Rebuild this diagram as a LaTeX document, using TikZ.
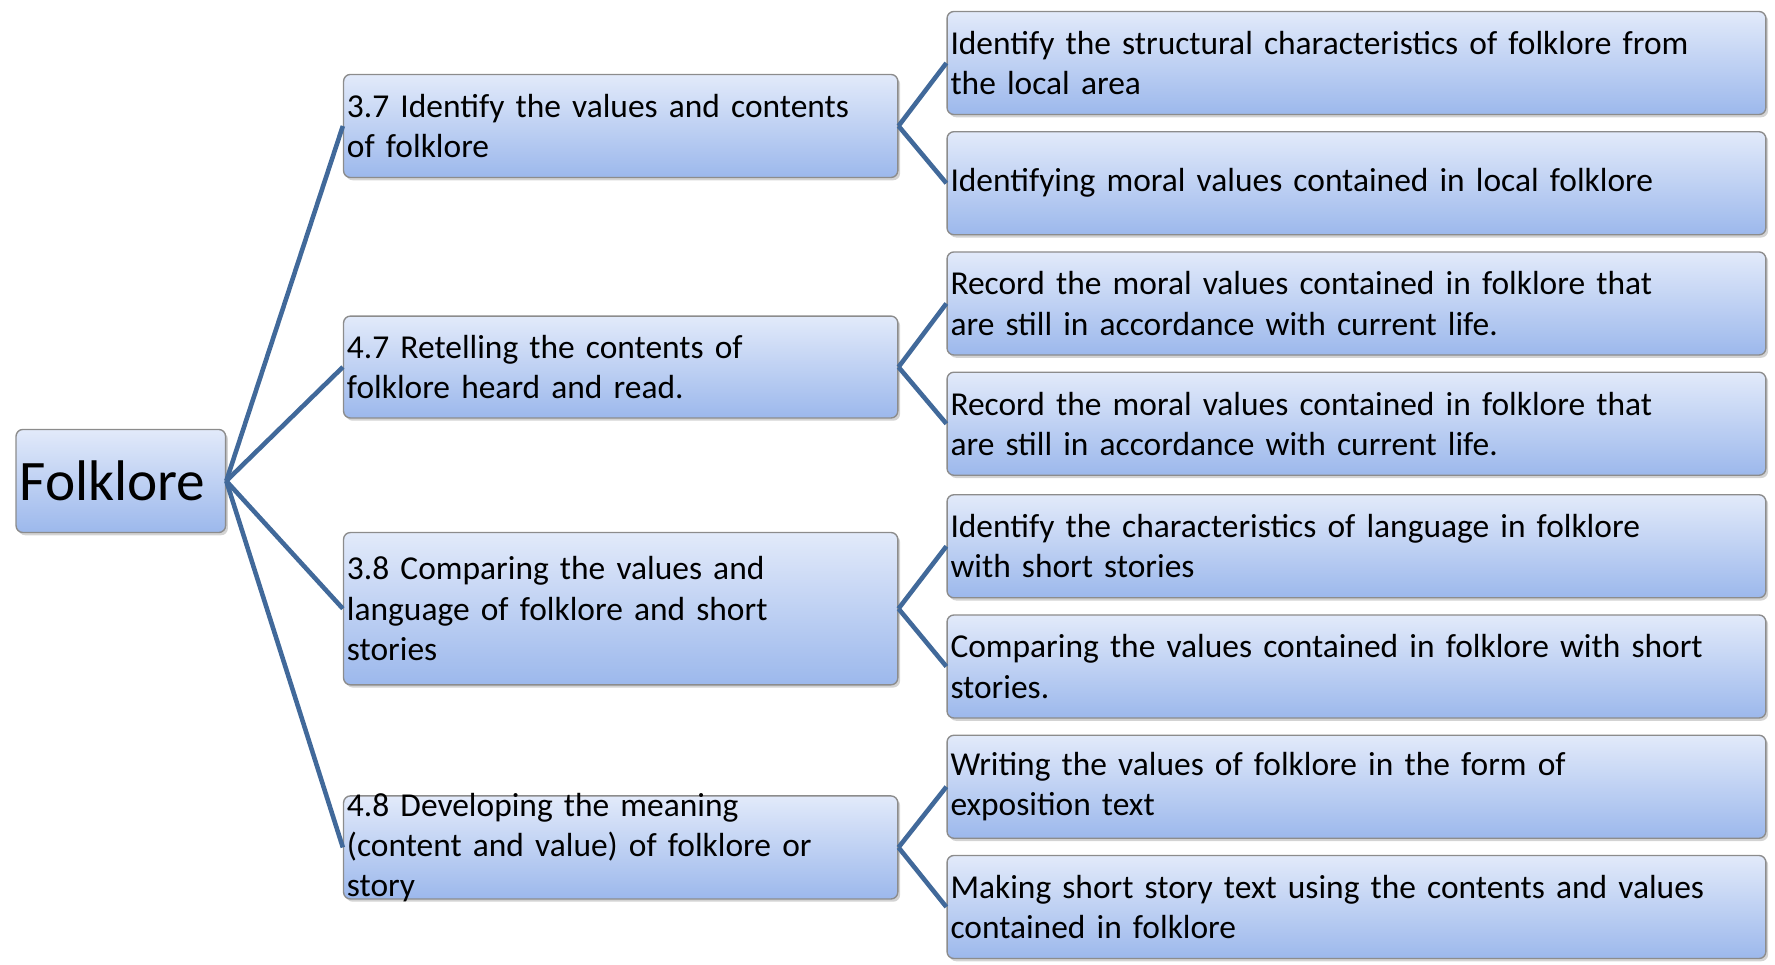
\documentclass[tikz,border=0pt]{standalone}
\usepackage{fontspec}
\setmainfont{Carlito}
\usetikzlibrary{shadows}
\definecolor{boxtop}{HTML}{E2EAFA}
\definecolor{boxbot}{HTML}{9CB8EC}
\definecolor{linkc}{HTML}{41699A}
\begin{document}
\begin{tikzpicture}[x=0.5pt,y=-0.5pt,
  boxs/.style={draw=black!45,line width=0.6pt,rounded corners=3pt,top color=boxtop,bottom color=boxbot,
    drop shadow={shadow xshift=1pt,shadow yshift=-1.2pt,opacity=0.35},inner sep=0pt},
  txt/.style={align=left,inner sep=0pt,font=\fontsize{14.6}{17.6}\selectfont},
  link/.style={draw=linkc,line width=2pt}]
\useasboundingbox (0,0) rectangle (1550,842);
\newcommand\bx[7]{% name, x1,y1,x2,y2, text, font
  \node[boxs,minimum width={(#4-#2)*0.5pt},minimum height={(#5-#3)*0.5pt}] (#1) at ({(#2+#4)/2},{(#3+#5)/2}) {};
  \node[txt,text width={(#4-#2-6)*0.5pt},#7] (#1t) at (#1.center) {#6};}
\bx{root}{14}{375}{197}{465}{Folklore}{font=\fontsize{25}{28}\selectfont}
\bx{a}{300}{65}{784}{155}{3.7 Identify the values and contents\\of folklore}{}
\bx{b}{300}{276}{784}{365}{4.7 Retelling the contents of\\folklore heard and read.}{}
\bx{c}{300}{465}{784}{598}{3.8 Comparing the values and\\language of folklore and short\\stories}{}
\bx{d}{300}{695}{784}{785}{4.8 Developing the meaning\\(content and value) of folklore or\\story}{}
\bx{a1}{827}{10}{1542}{100}{Identify the structural characteristics of folklore from\\the local area}{}
\bx{a2}{827}{115}{1542}{205}{Identifying moral values contained in local folklore}{}
\bx{b1}{827}{220}{1542}{310}{Record the moral values contained in folklore that\\are still in accordance with current life.}{}
\bx{b2}{827}{325}{1542}{415}{Record the moral values contained in folklore that\\are still in accordance with current life.}{}
\bx{c1}{827}{432}{1542}{522}{Identify the characteristics of language in folklore\\with short stories}{}
\bx{c2}{827}{537}{1542}{627}{Comparing the values contained in folklore with short\\stories.}{}
\bx{d1}{827}{642}{1542}{732}{Writing the values of folklore in the form of\\exposition text}{}
\bx{d2}{827}{747}{1542}{837}{Making short story text using the contents and values\\contained in folklore}{}
\foreach \m in {a,b,c,d}{\draw[link] (root.east) -- (\m.west);}
\foreach \m in {a,b,c,d}{\draw[link] (\m.east) -- (\m1.west); \draw[link] (\m.east) -- (\m2.west);}
\end{tikzpicture}
\end{document}
